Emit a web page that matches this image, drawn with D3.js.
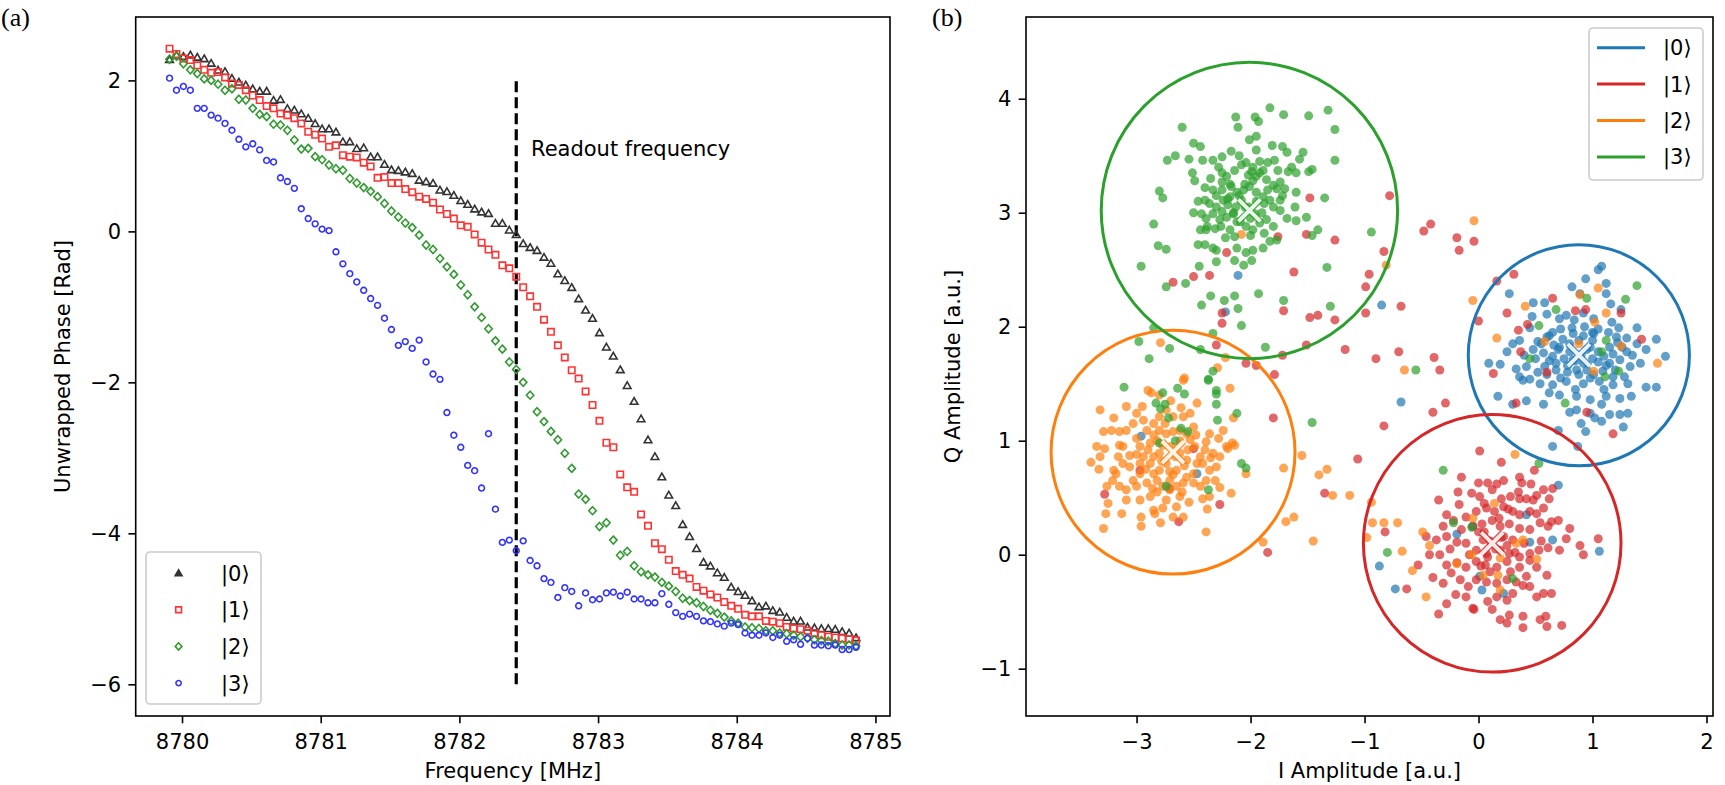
<!DOCTYPE html>
<html>
<head>
<meta charset="utf-8">
<script src="https://cdn.jsdelivr.net/npm/d3@7"></script>
<style>
  body { margin: 0; background: #fff; }
  svg { display: block; font-family: "DejaVu Sans", sans-serif; }
</style>
</head>
<body>
<svg width="1725" height="785"></svg>
<script>
// ---- panel (a): unwrapped phase vs frequency ----
const freqs = [
  8779.91, 8779.96, 8780.01, 8780.06, 8780.11, 8780.16, 8780.21, 8780.26, 8780.31, 8780.36,
  8780.41, 8780.46, 8780.51, 8780.56, 8780.61, 8780.66, 8780.71, 8780.76, 8780.81, 8780.86,
  8780.91, 8780.96, 8781.01, 8781.06, 8781.11, 8781.16, 8781.21, 8781.26, 8781.31, 8781.36,
  8781.41, 8781.46, 8781.51, 8781.56, 8781.61, 8781.66, 8781.71, 8781.76, 8781.81, 8781.86,
  8781.91, 8781.96, 8782.01, 8782.06, 8782.11, 8782.16, 8782.21, 8782.26, 8782.31, 8782.36,
  8782.41, 8782.46, 8782.51, 8782.56, 8782.61, 8782.66, 8782.71, 8782.76, 8782.81, 8782.86,
  8782.91, 8782.96, 8783.01, 8783.06, 8783.11, 8783.16, 8783.21, 8783.26, 8783.31, 8783.36,
  8783.41, 8783.46, 8783.51, 8783.56, 8783.61, 8783.66, 8783.71, 8783.76, 8783.81, 8783.86,
  8783.91, 8783.96, 8784.01, 8784.06, 8784.11, 8784.16, 8784.21, 8784.26, 8784.31, 8784.36,
  8784.41, 8784.46, 8784.51, 8784.56, 8784.61, 8784.66, 8784.71, 8784.76, 8784.81, 8784.86
];
const phase0 = [
  2.28, 2.34, 2.32, 2.34, 2.31, 2.29, 2.23, 2.14, 2.12, 2.03,
  1.98, 1.94, 1.89, 1.86, 1.86, 1.74, 1.75, 1.63, 1.61, 1.56,
  1.50, 1.43, 1.36, 1.36, 1.32, 1.19, 1.19, 1.10, 1.11, 0.99,
  0.99, 0.89, 0.82, 0.81, 0.79, 0.77, 0.68, 0.66, 0.64, 0.55,
  0.53, 0.48, 0.41, 0.36, 0.30, 0.26, 0.24, 0.11, 0.11, 0.02,
  -0.04, -0.16, -0.21, -0.25, -0.34, -0.42, -0.56, -0.65, -0.74, -0.89,
  -1.04, -1.15, -1.34, -1.53, -1.65, -1.83, -2.04, -2.25, -2.48, -2.76,
  -2.98, -3.25, -3.49, -3.63, -3.88, -4.04, -4.20, -4.38, -4.43, -4.52,
  -4.58, -4.71, -4.77, -4.82, -4.89, -4.97, -4.96, -5.02, -5.04, -5.11,
  -5.16, -5.16, -5.24, -5.25, -5.26, -5.26, -5.27, -5.30, -5.32, -5.38
];
const phase1 = [
  2.42, 2.35, 2.29, 2.27, 2.20, 2.14, 2.10, 2.11, 2.04, 1.96,
  1.94, 1.87, 1.80, 1.74, 1.66, 1.63, 1.56, 1.54, 1.50, 1.43,
  1.32, 1.28, 1.23, 1.12, 1.14, 1.01, 0.99, 0.98, 0.91, 0.86,
  0.71, 0.72, 0.64, 0.64, 0.56, 0.52, 0.46, 0.43, 0.38, 0.29,
  0.23, 0.17, 0.08, 0.06, -0.04, -0.15, -0.24, -0.31, -0.45, -0.49,
  -0.60, -0.74, -0.86, -1.00, -1.17, -1.33, -1.51, -1.67, -1.84, -1.95,
  -2.12, -2.30, -2.51, -2.80, -2.86, -3.22, -3.39, -3.45, -3.75, -3.90,
  -4.13, -4.21, -4.35, -4.50, -4.55, -4.60, -4.71, -4.76, -4.81, -4.85,
  -4.91, -4.96, -5.00, -5.08, -5.10, -5.10, -5.16, -5.17, -5.19, -5.24,
  -5.26, -5.27, -5.29, -5.32, -5.35, -5.37, -5.38, -5.39, -5.40, -5.42
];
const phase2 = [
  2.28, 2.32, 2.22, 2.14, 2.09, 2.02, 2.00, 1.95, 1.87, 1.89,
  1.75, 1.74, 1.63, 1.55, 1.52, 1.42, 1.41, 1.34, 1.21, 1.09,
  1.10, 0.99, 0.95, 0.88, 0.83, 0.81, 0.70, 0.64, 0.58, 0.53,
  0.46, 0.37, 0.27, 0.19, 0.11, 0.05, -0.05, -0.18, -0.24, -0.36,
  -0.47, -0.57, -0.71, -0.84, -1.00, -1.14, -1.29, -1.45, -1.56, -1.73,
  -1.83, -2.00, -2.17, -2.39, -2.52, -2.65, -2.76, -2.94, -3.14, -3.48,
  -3.55, -3.70, -3.91, -3.86, -4.09, -4.29, -4.24, -4.43, -4.51, -4.55,
  -4.58, -4.65, -4.70, -4.77, -4.86, -4.89, -4.92, -4.97, -5.02, -5.06,
  -5.11, -5.16, -5.19, -5.24, -5.25, -5.26, -5.29, -5.29, -5.32, -5.33,
  -5.35, -5.37, -5.39, -5.41, -5.42, -5.43, -5.46, -5.48, -5.48, -5.49
];
const phase3 = [
  2.03, 1.87, 1.92, 1.87, 1.63, 1.63, 1.54, 1.50, 1.43, 1.34,
  1.22, 1.12, 1.16, 1.08, 0.94, 0.92, 0.71, 0.66, 0.57, 0.30,
  0.17, 0.10, 0.03, 0.01, -0.27, -0.43, -0.56, -0.67, -0.78, -0.89,
  -0.98, -1.15, -1.30, -1.51, -1.46, -1.55, -1.44, -1.73, -1.89, -1.96,
  -2.40, -2.70, -2.86, -3.10, -3.17, -3.40, -2.68, -3.68, -4.12, -4.09,
  -4.23, -4.10, -4.36, -4.43, -4.60, -4.65, -4.85, -4.72, -4.77, -4.96,
  -4.79, -4.88, -4.87, -4.79, -4.78, -4.83, -4.78, -4.87, -4.87, -4.92,
  -4.92, -4.80, -4.94, -5.05, -5.10, -5.07, -5.10, -5.16, -5.17, -5.20,
  -5.23, -5.19, -5.21, -5.32, -5.35, -5.35, -5.32, -5.38, -5.35, -5.43,
  -5.41, -5.47, -5.39, -5.48, -5.48, -5.49, -5.48, -5.54, -5.54, -5.51
];
const readoutFreq = 8782.41;
const freqTicks = [8780, 8781, 8782, 8783, 8784, 8785];
const phaseTicks = [-6, -4, -2, 0, 2];
const stateLabels = ['|0⟩', '|1⟩', '|2⟩', '|3⟩'];

// ---- panel (b): IQ blobs, one list of [I, Q] per prepared state ----
const iq0 = [
  [-2.11,2.45],[-2.22,2.13],[-0.85,2.19],
  [1.08,2.53],[1.05,2.50],[0.94,2.42],[1.12,2.38],[0.82,2.35],[0.89,2.29],[1.12,2.29],[0.27,2.29],[0.58,2.21],
  [0.48,2.21],[1.16,2.20],[1.25,2.15],[0.47,2.09],[0.60,2.11],[0.71,2.07],[0.77,2.10],[0.84,2.06],[0.92,2.12],
  [1.01,2.07],[1.17,2.04],[1.23,1.99],[1.39,1.99],[1.56,1.89],[1.64,1.74],[1.47,1.80],[1.39,1.85],[1.30,1.78],
  [1.21,1.91],[1.15,1.82],[1.01,1.94],[0.92,1.92],[0.83,1.94],[0.74,1.89],[0.65,1.95],[0.60,1.91],[0.52,1.87],
  [0.45,1.99],[0.36,1.88],[0.30,1.85],[0.25,1.78],[0.09,1.68],[0.19,1.67],[0.33,1.63],[0.42,1.65],[0.48,1.80],
  [0.57,1.77],[0.65,1.74],[0.71,1.82],[0.80,1.85],[0.98,1.82],[1.05,1.69],[1.15,1.68],[1.24,1.71],[1.33,1.65],
  [1.28,1.56],[0.86,1.62],[0.83,1.71],[1.01,1.58],[1.09,1.61],[0.60,1.58],[0.68,1.62],[0.45,1.54],[0.36,1.56],
  [0.39,1.53],[0.54,1.50],[0.65,1.49],[0.77,1.52],[0.92,1.50],[1.06,1.52],[1.18,1.49],[1.31,1.50],[1.47,1.47],
  [1.56,1.47],[0.17,1.39],[0.30,1.32],[0.42,1.35],[0.57,1.32],[0.71,1.40],[0.86,1.39],[0.98,1.36],[1.12,1.39],
  [1.24,1.37],[1.34,1.39],[1.08,1.32],[0.80,1.25],[0.86,1.27],[0.98,1.24],[1.02,1.20],[1.08,1.17],[1.15,1.23],
  [1.24,1.23],[1.31,1.24],[0.90,1.15],[0.94,1.08],[1.27,1.12],[0.70,1.09],[0.65,0.95],[0.87,0.95],
  [0.80,1.78],[0.90,1.75],[1.00,1.72],[0.95,1.80],[0.85,1.70],[1.05,1.78],[0.75,1.72],[0.70,1.80],[0.88,1.88],
  [1.10,1.74],[0.62,1.70],[1.18,1.76],[0.95,1.62],[0.78,1.60],[1.00,1.88],
  [0.55,1.85],[0.62,1.92],[0.72,1.98],[0.82,1.99],[0.93,2.00],[1.05,1.98],[1.14,1.95],[1.22,1.86],[1.30,1.90],
  [0.58,1.65],[0.68,1.68],[0.78,1.66],[0.92,1.68],[1.12,1.66],[1.20,1.62],[0.50,1.72],[0.40,1.75],[1.35,1.75],
  [1.42,1.68],[0.98,1.55],[0.72,1.55],[0.85,1.45],[1.10,1.45],[0.62,1.42],[1.00,1.95],[0.66,1.84],[1.26,1.82],
  [0.88,1.58],[0.52,1.60],[1.18,1.56],
  [-0.68,1.34],[-0.87,-0.10],[-0.73,-0.30],[0.03,-0.31],[0.22,-0.34],[0.01,-0.19],[0.42,0.35],[0.45,0.11],
  [0.65,0.13],[1.06,0.03],[0.70,0.61],[-0.19,0.18],[-0.05,0.25],[-2.96,1.04],[-2.47,0.71]
];
const iq1 = [
  [-1.48,3.13],[-1.51,2.81],[-1.76,2.79],[-1.26,2.76],[-2.21,2.65],[-1.62,2.48],[-2.36,2.45],[-2.50,2.44],
  [-2.68,2.39],[-2.25,2.12],[-2.25,2.03],[-1.71,2.14],[-1.48,2.08],[-1.41,2.10],[-1.26,2.06],[-2.30,1.84],
  [-1.51,1.84],[-1.72,1.75],[-2.04,1.68],[-1.79,1.58],[-1.95,1.66],
  [-0.78,3.15],[-0.83,2.66],[-0.96,2.46],[-0.99,2.35],[-0.68,2.18],[-0.48,2.84],[-0.42,2.90],[-0.19,2.78],
  [-0.17,2.67],[-0.04,2.75],[0.31,2.46],[0.16,2.40],[0.25,2.12],[0.00,2.05],[0.65,2.25],[0.43,2.02],[0.35,1.97],
  [0.37,1.78],[0.13,1.59],[0.60,1.60],[0.85,2.14],[0.94,2.15],[1.25,2.12],[1.43,1.89],[-1.17,1.80],[-0.90,1.72],
  [-0.70,1.78],[-0.39,1.73],[-0.34,1.62],[-0.99,2.12],
  [-1.80,1.20],[-2.50,0.93],[-2.97,0.74],[-3.28,0.53],[-2.27,0.44],[-2.63,0.29],[-1.85,0.02],[-2.71,0.58],[-1.35,0.54],
  [-0.29,1.33],[-0.40,1.25],[-0.83,1.13],[-1.06,0.84],[-0.82,0.20],[-0.63,-0.30],[-0.35,-0.52],[-0.28,-0.43],
  [-0.04,-0.48],[0.01,0.91],[0.20,0.81],[0.49,0.74],[0.33,1.33],[0.95,1.25],[1.18,1.06],
  [-0.15,0.68],[0.00,0.63],[0.08,0.63],[0.16,0.62],[0.22,0.65],[0.36,0.68],[0.38,0.63],[0.46,0.62],[0.57,0.57],
  [0.65,0.58],[-0.35,0.48],[-0.18,0.55],[-0.06,0.54],[0.01,0.51],[0.12,0.57],[0.20,0.49],[0.28,0.51],[0.36,0.49],
  [0.42,0.49],[0.51,0.52],[0.62,0.49],[-0.28,0.35],[-0.17,0.44],[-0.11,0.33],[-0.02,0.38],[0.07,0.41],[0.14,0.38],
  [0.22,0.42],[0.30,0.38],[0.36,0.35],[0.45,0.38],[0.51,0.36],[0.57,0.41],[0.54,0.28],[0.61,0.25],[0.64,0.29],
  [0.80,0.23],[0.77,0.14],[0.89,0.08],[1.05,0.14],[0.92,0.00],[0.71,0.04],[0.61,0.06],[0.53,0.04],[0.45,0.01],
  [0.36,-0.02],[0.27,0.01],[0.19,0.04],[0.07,0.01],[-0.02,0.04],[-0.11,0.10],[-0.19,0.11],[-0.28,0.16],[-0.37,0.13],
  [-0.46,0.16],[-0.43,0.00],[-0.34,0.00],[-0.28,-0.09],[-0.19,-0.07],[-0.11,-0.11],[-0.02,-0.06],[0.06,-0.09],
  [0.16,-0.11],[0.25,-0.06],[0.36,-0.11],[0.45,-0.05],[0.51,-0.11],[0.42,-0.19],[0.33,-0.24],[0.25,-0.22],
  [0.16,-0.25],[0.07,-0.24],[-0.02,-0.22],[-0.09,-0.28],[-0.16,-0.22],[-0.24,-0.16],[-0.31,-0.25],[-0.53,-0.09],
  [-0.11,-0.37],[-0.05,-0.47],[0.08,-0.41],[0.16,-0.37],[0.25,-0.40],[0.30,-0.34],[0.39,-0.27],[0.45,-0.28],
  [0.51,-0.37],[0.57,-0.34],[0.64,-0.34],[0.19,-0.57],[0.25,-0.60],[0.39,-0.54],[0.54,-0.57],[0.59,-0.54],
  [0.73,-0.62],[0.39,-0.64],[0.60,-0.63],[0.27,-0.53],[-0.31,0.25],[-0.22,0.30],[-0.05,0.25],[0.03,0.27],
  [0.19,0.25],[0.27,0.27],[0.36,0.23],[0.45,0.22],[0.22,0.16],[0.30,0.13],[0.04,0.13],[0.10,0.12],[0.15,0.05],
  [0.05,0.20],[0.20,0.15],[0.08,-0.02],[0.12,0.30],[0.25,0.08],
  [0.00,0.20],[0.18,0.32],[0.32,0.02],[-0.08,0.00],[0.28,-0.15],[0.10,-0.15],[-0.15,0.22],[0.40,0.10],
  [0.05,0.45],[0.35,0.55],[-0.25,0.05],[0.60,-0.18],[0.70,0.30],[-0.40,-0.20],[0.12,-0.48],[0.48,0.48],
  [-0.20,-0.35],[0.02,-0.10],[0.55,0.12],[0.26,0.40]
];
const iq2 = [
  [-2.08,2.81],[-2.79,1.86],[-2.22,1.73],[-2.29,1.64],[-2.58,1.55],
  [-0.04,2.93],[-0.05,2.23],[-0.81,2.54],[-0.65,1.62],[0.41,2.18],[0.16,1.90],[0.58,1.87],[1.05,2.34],[1.02,2.04],
  [1.12,2.12],[1.25,1.83],[1.57,1.68],[0.88,1.85],[1.01,1.61],[0.89,2.28],
  [-3.32,1.27],[-3.29,1.08],[-3.35,0.95],[-3.40,0.81],[-3.33,0.75],[-3.21,0.65],[-3.25,0.45],[-3.27,0.36],
  [-3.29,0.23],[-3.13,0.36],[-3.09,1.30],[-3.00,1.24],[-2.90,1.44],[-2.87,1.42],[-2.80,1.40],[-2.61,1.29],
  [-2.47,1.33],[-2.59,1.53],[-2.18,1.46],[-2.15,1.20],[-2.24,1.09],[-2.16,0.98],[-2.14,0.96],[-2.20,0.93],
  [-1.55,0.87],[-1.71,0.76],[-1.40,0.70],[-1.33,0.75],[-1.28,0.52],[-1.69,0.29],[-1.62,0.33],[-1.45,0.12],
  [-1.89,0.11],[-2.39,0.20],[-2.38,0.40],[-2.42,0.49],[-2.54,0.46],[-2.59,0.33],[-2.68,0.33],[-2.79,0.28],
  [-2.96,0.25],[-2.96,0.33],[-2.85,0.39],[-2.84,0.36],[-2.77,0.41],[-2.17,0.54],[-2.27,0.59],[-2.31,0.65],
  [-2.36,0.51],[-2.04,0.71],[-3.09,1.09],[-3.22,1.09],[-3.15,0.96],[-3.16,0.86],[-3.28,0.93],[-3.32,0.86],
  [-3.20,0.74],[-3.26,0.60],[-3.15,0.60],[-3.09,0.57],[-3.03,0.65],[-3.06,0.77],[-3.06,0.87],[-2.97,0.95],
  [-3.00,1.02],[-2.91,1.09],[-2.85,1.15],[-2.80,1.21],[-2.74,1.27],[-2.68,1.21],[-2.59,1.21],[-2.53,1.24],
  [-2.50,1.12],[-2.56,1.06],[-2.62,1.09],[-2.68,1.08],[-2.74,1.06],[-2.80,1.09],[-2.85,1.05],[-2.88,0.98],
  [-2.94,0.86],[-2.88,0.80],[-2.85,0.71],[-2.82,0.65],[-2.77,0.60],[-2.71,0.57],[-2.65,0.60],[-2.59,0.63],
  [-2.56,0.68],[-2.50,0.71],[-2.47,0.80],[-2.44,0.86],[-2.40,0.92],[-2.39,0.99],[-2.36,1.06],[-2.42,0.80],
  [-2.36,0.74],[-2.30,0.77],[-2.33,0.89],[-2.27,0.86],[-2.21,0.95],[-2.28,1.02],[-2.50,0.63],[-2.44,0.60],
  [-2.62,0.51],[-2.71,0.65],[-2.80,0.74],[-2.97,0.71],[-3.00,0.60],[-2.97,0.48],[-2.88,0.51],[-3.09,0.48],
  [-3.18,0.71],[-3.12,0.80],[-2.97,0.80],[-2.74,0.80],[-2.65,0.74],[-2.56,0.83],[-2.62,0.89],[-2.80,0.89],
  [-2.85,0.86],[-3.03,1.15],[-2.94,1.18],[-3.15,1.08],[-2.39,0.65],[-2.49,0.95],[-2.53,1.01],[-2.77,0.96],
  [-2.71,0.73],[-2.91,0.63],[-2.82,0.55],[-2.65,0.42],[-2.74,0.48],
  [-2.70,0.95],[-2.62,1.00],[-2.78,0.82],[-2.90,0.92],[-2.58,0.78],[-2.68,0.70],[-2.92,0.75],[-2.75,1.15],
  [-2.55,0.92],[-3.00,0.88],[-2.82,1.00],[-2.66,0.86],[-2.48,1.05],[-2.86,0.58],[-2.60,0.55],[-3.12,0.95],
  [-2.35,0.85],[-2.95,1.30],[-2.70,1.35],[-3.20,1.20],
  [-1.13,0.52],[-0.94,0.46],[-0.93,0.28],[-0.83,0.28],[-0.71,0.28],[-0.98,0.15],[-0.67,0.03],[-0.49,0.20],
  [-0.58,-0.14],[-0.46,-0.37],[-0.43,0.08],[-0.19,-0.08],[-0.06,0.00],[-0.05,0.32],[0.14,0.45],[0.19,-0.03],
  [0.33,0.10],[0.39,0.13],[0.51,-0.04],[0.19,-0.31],[0.17,-0.18],[0.04,-0.18],[0.32,0.88]
];
const iq3 = [
  [-1.83,3.92],[-1.71,3.86],[-1.49,3.85],[-1.32,3.90],[-1.26,3.73],[-2.13,3.84],[-1.96,3.84],[-1.93,3.80],
  [-2.11,3.75],[-2.60,3.75],[-1.95,3.67],[-2.01,3.64],[-1.26,3.46],[-2.50,3.61],[-2.44,3.58],[-2.17,3.54],
  [-2.66,3.50],[-2.73,3.46],[-2.54,3.47],[-2.42,3.46],[-2.33,3.46],[-2.25,3.49],[-1.81,3.59],[-1.72,3.58],
  [-1.68,3.53],[-1.54,3.53],[-1.57,3.47],[-1.49,3.36],[-1.46,3.38],[-2.51,3.35],[-2.49,3.28],[-1.60,3.35],
  [-2.80,3.19],[-2.77,3.13],[-2.85,2.90],[-2.81,2.71],[-2.74,2.68],[-2.96,2.53],[-2.74,2.35],[-2.57,2.38],
  [-2.45,2.53],[-2.35,2.27],[-2.43,2.19],[-2.23,2.23],[-2.11,2.16],[-2.14,2.27],[-2.08,2.01],[-1.93,2.29],
  [-1.71,2.23],[-1.30,2.18],[-1.33,2.52],[-1.35,3.13],[-1.41,2.85],[-1.46,2.80],[-1.60,3.18],[-1.61,3.05],
  [-1.51,2.96],[-1.60,2.93],[-1.68,2.95],[-1.74,3.02],[-1.74,3.11],[-1.77,3.21],[-1.70,3.21],
  [-2.40,3.22],[-2.33,3.20],[-2.25,3.27],[-2.21,3.32],[-2.14,3.37],[-2.08,3.42],[-2.04,3.44],[-1.98,3.40],
  [-1.92,3.35],[-1.86,3.29],[-1.80,3.24],[-1.74,3.27],[-1.85,3.44],[-1.79,3.46],[-2.40,3.11],[-2.36,3.08],
  [-2.30,3.05],[-2.24,3.11],[-2.18,3.14],[-2.12,3.18],[-2.06,3.20],[-2.01,3.23],[-1.95,3.18],[-1.89,3.14],
  [-1.83,3.11],[-2.43,2.99],[-2.39,2.95],[-2.33,2.99],[-2.27,2.94],[-2.21,2.96],[-2.15,2.99],[-2.09,2.92],
  [-2.04,2.88],[-1.98,2.85],[-1.92,2.91],[-1.86,2.94],[-1.80,2.88],[-1.77,2.76],[-1.83,2.75],[-1.89,2.69],
  [-1.98,2.67],[-2.04,2.65],[-2.12,2.69],[-2.30,2.67],[-2.33,2.69],[-2.40,2.72],[-2.46,2.72],[-2.44,2.85],
  [-2.39,2.85],[-2.31,2.86],[-2.18,2.85],[-2.14,2.79],[-2.06,2.54],[-2.14,2.58],[-1.99,2.58],[-2.30,2.57],
  [-2.25,3.35],[-1.99,3.36],[-1.95,3.32],[-1.89,3.37],[-1.76,3.37],[-1.67,3.36],[-1.64,3.40],[-2.17,3.23],
  [-2.08,3.11],[-2.02,3.05],[-1.96,2.99],[-2.25,3.01],[-2.20,3.07],[-2.13,3.05],
  [-2.05,3.05],[-1.95,3.10],[-2.10,3.15],[-2.00,2.95],[-1.90,3.00],[-2.15,3.00],[-2.20,3.12],[-1.85,3.20],
  [-2.05,3.25],[-2.25,3.20],
  [-2.30,3.15],[-2.18,3.25],[-1.98,3.28],[-1.88,3.08],[-2.12,2.92],[-2.00,2.80],[-2.22,2.78],[-1.92,3.45],
  [-2.28,3.40],[-2.35,3.30],[-2.46,3.10],[-2.50,3.00],[-1.80,3.05],[-1.72,3.15],[-2.10,3.50],[-1.95,3.55],
  [-2.38,2.88],[-2.26,2.88],[-1.88,2.82],[-2.02,3.33],
  [-2.85,1.99],[-2.98,1.87],[-2.71,1.81],[-2.44,1.80],[-2.33,1.94],[-1.87,1.82],[-2.89,1.72],[-2.33,1.61],[-2.37,1.54],
  [-0.94,2.83],[-0.55,1.62],[1.39,2.36],[1.29,2.24],[0.68,2.15],[0.53,2.01],[0.45,1.72],[1.12,1.88],[1.08,1.78],
  [1.23,1.61],[1.11,1.56],[0.95,2.25],
  [-3.11,1.47],[-2.77,1.42],[-2.64,1.46],[-2.58,1.41],[-2.83,1.33],[-2.75,1.32],[-2.79,1.28],[-2.72,1.20],
  [-2.61,1.11],[-2.55,1.08],[-2.30,1.44],[-2.30,1.41],[-2.30,1.32],[-2.29,1.18],[-2.12,1.24],[-2.80,0.98],
  [-2.66,1.00],[-2.74,0.60],[-2.37,0.57],[-2.08,0.80],[-2.04,0.76],[-2.37,1.53],[-1.46,1.16],
  [-0.31,0.74],[-0.22,0.28],[-0.06,0.24],[-0.80,0.02],[0.30,-0.21],[0.53,0.80],[0.76,1.33]
];
// fitted blob centres and decision circles, state order 0..3
const centerI = [0.88, 0.12, -2.68, -2.01];
const centerQ = [1.75, 0.10, 0.90, 3.02];
const radius = [0.97, 1.13, 1.07, 1.30];
const iTicks = [-3, -2, -1, 0, 1, 2];
const qTicks = [-1, 0, 1, 2, 3, 4];

const svg = d3.select('svg');
const fontSize = 21;
const tab10 = ['#1f77b4', '#d62728', '#ff7f0e', '#2ca02c'];

function frameAndAxes(x, y, box, xt, yt, fmt) {
  const g = svg.append('g');
  const ax = g.append('g')
      .attr('transform', `translate(0,${box.bottom})`)
      .call(d3.axisBottom(x).tickValues(xt).tickFormat(fmt).tickSize(7.3).tickPadding(10.5));
  const ay = g.append('g')
      .attr('transform', `translate(${box.left},0)`)
      .call(d3.axisLeft(y).tickValues(yt).tickFormat(d3.format('d')).tickSize(7.3).tickPadding(7.3));
  [ax, ay].forEach(a => {
    a.select('.domain').remove();
    a.selectAll('line').attr('stroke', '#000').attr('stroke-width', 1.6);
    a.selectAll('text').attr('fill', '#000').style('font-size', fontSize + 'px')
      .style('font-family', '"DejaVu Sans", sans-serif');
  });
  return g;
}

function drawFrame(box) {
  svg.append('rect')
      .attr('x', box.left).attr('y', box.top)
      .attr('width', box.right - box.left).attr('height', box.bottom - box.top)
      .attr('fill', 'none').attr('stroke', '#000').attr('stroke-width', 1.6);
}

// ================= panel (a) =================
const boxA = {left: 135.7, right: 890, top: 17, bottom: 716};
const xA = d3.scaleLinear().domain([8779.666, 8785.105]).range([boxA.left, boxA.right]);
const yA = d3.scaleLinear().domain([-6.42, 2.84]).range([boxA.bottom, boxA.top]);

frameAndAxes(xA, yA, boxA, freqTicks, phaseTicks, d3.format('d'));

const markerPath = {
  tri: 'M0,-3.5L3.8,3.1L-3.8,3.1Z',
  sq: 'M-3.2,-3.2H3.2V3.2H-3.2Z',
  dia: 'M0,-4L3.7,0L0,4L-3.7,0Z',
  circ: 'M2.9,0A2.9,2.9 0 1,1 -2.9,0A2.9,2.9 0 1,1 2.9,0Z'
};
const phaseSeries = [
  {vals: phase0, color: '#333333', shape: 'tri'},
  {vals: phase1, color: '#ff3333', shape: 'sq'},
  {vals: phase2, color: '#339933', shape: 'dia'},
  {vals: phase3, color: '#3333ff', shape: 'circ'}
];

// readout marker
svg.append('line')
    .attr('x1', xA(readoutFreq)).attr('x2', xA(readoutFreq))
    .attr('y1', yA(-6)).attr('y2', yA(2))
    .attr('stroke', '#000').attr('stroke-width', 3.2)
    .attr('stroke-dasharray', '11,5');

phaseSeries.forEach(s => {
  svg.append('g').selectAll('path')
      .data(s.vals)
      .enter()
      .append('path')
      .attr('d', markerPath[s.shape])
      .attr('transform', (d, i) => `translate(${xA(freqs[i])},${yA(d)})`)
      .attr('fill', 'none')
      .attr('stroke', s.color)
      .attr('stroke-width', 1.6);
});

svg.append('text')
    .attr('x', 531).attr('y', 155.5)
    .style('font-size', fontSize + 'px')
    .text('Readout frequency');

// legend (a)
const legA = svg.append('g');
legA.append('rect')
    .attr('x', 146).attr('y', 552).attr('width', 115).attr('height', 152)
    .attr('rx', 4).attr('fill', '#fff').attr('fill-opacity', 0.8)
    .attr('stroke', '#cccccc').attr('stroke-width', 1.6);
phaseSeries.forEach((s, i) => {
  const cy = 573 + i * 36.7;
  legA.append('path')
      .attr('d', markerPath[s.shape])
      .attr('transform', `translate(178.6,${cy}) scale(0.9)`)
      .attr('fill', s.shape === 'tri' ? s.color : 'none')
      .attr('stroke', s.color).attr('stroke-width', 1.8);
  legA.append('text')
      .attr('x', 221).attr('y', cy).attr('dy', '0.36em')
      .style('font-size', fontSize + 'px')
      .text(stateLabels[i]);
});

svg.append('text')
    .attr('x', (boxA.left + boxA.right) / 2).attr('y', 778)
    .attr('text-anchor', 'middle').style('font-size', fontSize + 'px')
    .text('Frequency [MHz]');
svg.append('text')
    .attr('transform', `translate(70,${(boxA.top + boxA.bottom) / 2}) rotate(-90)`)
    .attr('text-anchor', 'middle').style('font-size', fontSize + 'px')
    .text('Unwrapped Phase [Rad]');

drawFrame(boxA);

// ================= panel (b) =================
const boxB = {left: 1026, right: 1713, top: 17, bottom: 716};
const xB = d3.scaleLinear().domain([-3.97, 2.057]).range([boxB.left, boxB.right]);
const yB = d3.scaleLinear().domain([-1.415, 4.717]).range([boxB.bottom, boxB.top]);

frameAndAxes(xB, yB, boxB, iTicks, qTicks, d3.format('d'));

[iq0, iq1, iq2, iq3].forEach((pts, k) => {
  svg.append('g').selectAll('circle')
      .data(pts)
      .enter()
      .append('circle')
      .attr('cx', d => xB(d[0]))
      .attr('cy', d => yB(d[1]))
      .attr('r', 4.5)
      .attr('fill', tab10[k])
      .attr('fill-opacity', 0.7);
});

centerI.forEach((ci, k) => {
  const cx = xB(ci), cy = yB(centerQ[k]);
  svg.append('circle')
      .attr('cx', cx).attr('cy', cy)
      .attr('r', xB(ci + radius[k]) - cx)
      .attr('fill', 'none').attr('stroke', tab10[k]).attr('stroke-width', 3);
  const cross = `M${cx - 11},${cy - 11}L${cx + 11},${cy + 11}M${cx - 11},${cy + 11}L${cx + 11},${cy - 11}`;
  svg.append('path').attr('d', cross)
      .attr('stroke', tab10[k]).attr('stroke-width', 6.5).attr('stroke-opacity', 0.8);
  svg.append('path').attr('d', cross)
      .attr('stroke', '#fff').attr('stroke-width', 3.8).attr('stroke-opacity', 0.9);
});

// legend (b)
const legB = svg.append('g');
legB.append('rect')
    .attr('x', 1589).attr('y', 28).attr('width', 114).attr('height', 152)
    .attr('rx', 4).attr('fill', '#fff').attr('fill-opacity', 0.8)
    .attr('stroke', '#cccccc').attr('stroke-width', 1.6);
tab10.forEach((c, i) => {
  const cy = 47.7 + i * 36.4;
  legB.append('line')
      .attr('x1', 1597).attr('x2', 1645).attr('y1', cy).attr('y2', cy)
      .attr('stroke', c).attr('stroke-width', 3);
  legB.append('text')
      .attr('x', 1663).attr('y', cy).attr('dy', '0.36em')
      .style('font-size', fontSize + 'px')
      .text(stateLabels[i]);
});

svg.append('text')
    .attr('x', (boxB.left + boxB.right) / 2).attr('y', 778)
    .attr('text-anchor', 'middle').style('font-size', fontSize + 'px')
    .text('I Amplitude [a.u.]');
svg.append('text')
    .attr('transform', `translate(960,${(boxB.top + boxB.bottom) / 2}) rotate(-90)`)
    .attr('text-anchor', 'middle').style('font-size', fontSize + 'px')
    .text('Q Amplitude [a.u.]');

drawFrame(boxB);

// panel tags
[['(a)', 1], ['(b)', 932]].forEach(t => {
  svg.append('text')
      .attr('x', t[1]).attr('y', 26)
      .style('font-family', '"Liberation Serif", serif')
      .style('font-size', '26px')
      .text(t[0]);
});
</script>
</body>
</html>
